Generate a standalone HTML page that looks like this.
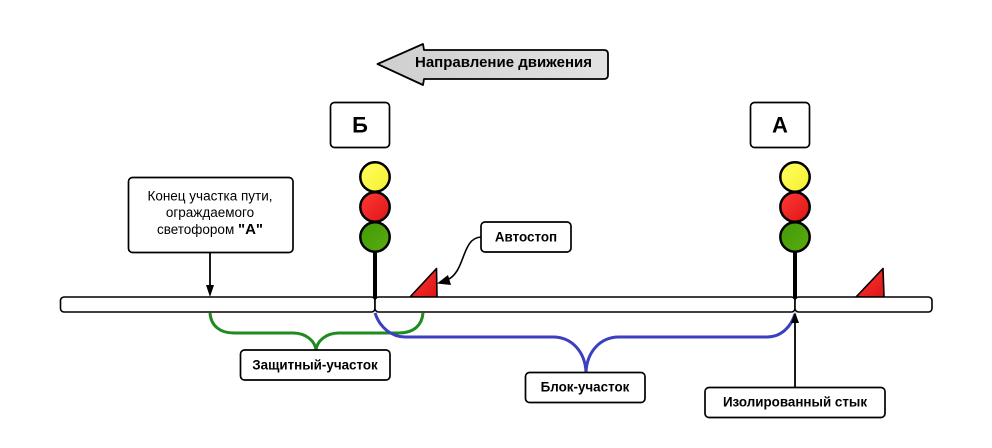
<!DOCTYPE html>
<html lang="ru">
<head>
<meta charset="utf-8">
<style>
html,body{margin:0;padding:0;background:#fff;width:992px;height:448px;overflow:hidden}
svg{display:block}
text{font-family:"Liberation Sans","DejaVu Sans",sans-serif;fill:#000;text-anchor:middle}
.b{font-weight:bold}
</style>
</head>
<body>
<svg width="992" height="448" viewBox="0 0 992 448" xmlns="http://www.w3.org/2000/svg">
<defs>
<linearGradient id="gy" x1="0" y1="0" x2="1" y2="1"><stop offset="0" stop-color="#ffff60"/><stop offset="1" stop-color="#f6f030"/></linearGradient>
<linearGradient id="gr" x1="0" y1="0" x2="1" y2="1"><stop offset="0" stop-color="#ff3838"/><stop offset="1" stop-color="#dd1515"/></linearGradient>
<linearGradient id="gg" x1="0" y1="0" x2="1" y2="1"><stop offset="0" stop-color="#3f9a08"/><stop offset="1" stop-color="#5cab10"/></linearGradient>
<linearGradient id="ga" x1="0" y1="0" x2="1" y2="0"><stop offset="0" stop-color="#cfcfcf"/><stop offset="1" stop-color="#e2e2e2"/></linearGradient>
</defs>

<!-- direction arrow -->
<path d="M377.5 64 L423 44 L424 50 L604 50 Q608 50 608 54 L608 75 Q608 79 604 79 L424 79 L423 85 Z" fill="url(#ga)" stroke="#000" stroke-width="1.8" stroke-linejoin="round"/>
<text class="b" x="503.500" y="67" font-size="15">Направление движения</text>

<!-- signal labels -->
<rect x="330.500" y="102.500" width="59" height="45" rx="4" fill="#fff" stroke="#000" stroke-width="1.700"/>
<text class="b" x="360" y="132.500" font-size="22">Б</text>
<rect x="750.500" y="102.500" width="59" height="45" rx="4" fill="#fff" stroke="#000" stroke-width="1.700"/>
<text class="b" x="780" y="132.500" font-size="22">А</text>

<!-- red triangles -->
<path d="M410 297 L436.500 268.500 L437 297 Z" fill="url(#gr)" stroke="#000" stroke-width="1.600" stroke-linejoin="round"/>
<path d="M856 297 L883 268.500 L884 297 Z" fill="url(#gr)" stroke="#000" stroke-width="1.600" stroke-linejoin="round"/>

<!-- poles -->
<rect x="373" y="250" width="4" height="48" fill="#000"/>
<rect x="793" y="250" width="4" height="48" fill="#000"/>

<!-- track -->
<rect x="60.500" y="297" width="314.500" height="15" rx="3.500" fill="#fff" stroke="#000" stroke-width="1.600"/>
<rect x="375" y="297" width="420" height="15" rx="3.500" fill="#fff" stroke="#000" stroke-width="1.600"/>
<rect x="795" y="297" width="137" height="15" rx="3.500" fill="#fff" stroke="#000" stroke-width="1.600"/>

<!-- signal lamps -->
<circle cx="375" cy="177" r="14.700" fill="url(#gy)" stroke="#000" stroke-width="2.500"/>
<circle cx="375" cy="207" r="14.700" fill="url(#gr)" stroke="#000" stroke-width="2.500"/>
<circle cx="375" cy="237" r="14.700" fill="url(#gg)" stroke="#000" stroke-width="2.500"/>
<circle cx="795" cy="177" r="14.700" fill="url(#gy)" stroke="#000" stroke-width="2.500"/>
<circle cx="795" cy="207" r="14.700" fill="url(#gr)" stroke="#000" stroke-width="2.500"/>
<circle cx="795" cy="237" r="14.700" fill="url(#gg)" stroke="#000" stroke-width="2.500"/>

<!-- brackets -->
<path d="M210 313 C211 326 220 333 234 333 L293 333 C306 333 315 341 316 350 C317 341 326 333 339 333 L399 333 C414 333 422 325 423 313" fill="none" stroke="#1f8a1f" stroke-width="3"/>
<path d="M375 313 C380 328 392 337 405 337 L553 337 C572 337 585 352 586 372 C587 352 600 337 619 337 L767 337 C781 337 791 327 795 314" fill="none" stroke="#3b3fc0" stroke-width="3"/>

<!-- end-of-section note -->
<rect x="128.500" y="177.500" width="164.500" height="75" rx="4" fill="#fff" stroke="#000" stroke-width="1.700"/>
<text x="210" y="200.500" font-size="13.500">Конец участка пути,</text>
<text x="210" y="217" font-size="13.500">ограждаемого</text>
<text x="210" y="234" font-size="13.500">светофором <tspan class="b" font-size="15">"А"</tspan></text>
<path d="M210 253 L210 287" fill="none" stroke="#000" stroke-width="1.800"/>
<path d="M206 285 L214 285 L210 297 Z" fill="#000"/>

<!-- protective section label -->
<rect x="240.500" y="350" width="149.500" height="30" rx="4" fill="#fff" stroke="#000" stroke-width="1.700"/>
<text class="b" x="315" y="369.500" font-size="13.400">Защитный-участок</text>

<!-- block section label -->
<rect x="525.500" y="372.500" width="119.500" height="30" rx="4" fill="#fff" stroke="#000" stroke-width="1.700"/>
<text class="b" x="585" y="391.500" font-size="13.400">Блок-участок</text>

<!-- autostop label -->
<rect x="481" y="222" width="90" height="30" rx="4" fill="#fff" stroke="#000" stroke-width="1.700"/>
<text class="b" x="526" y="241.500" font-size="13.400">Автостоп</text>
<path d="M481 237 C461 238 466 272 447 280" fill="none" stroke="#000" stroke-width="1.600"/>
<path d="M437 283.500 L448 275 L451 285 Z" fill="#000"/>

<!-- insulated joint label -->
<rect x="705" y="387.500" width="180" height="30" rx="4" fill="#fff" stroke="#000" stroke-width="1.700"/>
<text class="b" x="795" y="406.500" font-size="13.400">Изолированный стык</text>
<path d="M795 387 L795 320" fill="none" stroke="#000" stroke-width="1.800"/>
<path d="M791 323 L799 323 L795 312 Z" fill="#000"/>
</svg>
</body>
</html>
